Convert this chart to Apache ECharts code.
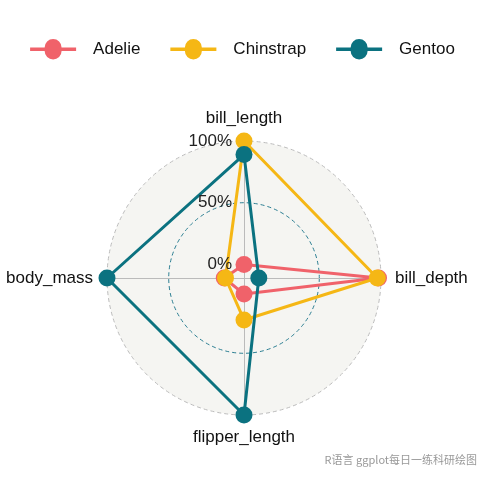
<!DOCTYPE html>
<html><head><meta charset="utf-8">
<script src="https://cdn.jsdelivr.net/npm/echarts@6/dist/echarts.min.js"></script>
<style>html,body{margin:0;background:#fff}#c{width:485px;height:485px}</style>
</head><body><div id="c"></div>
<script>
var axes = ['bill_length', 'body_mass', 'flipper_length', 'bill_depth'];
var species = ['Adelie', 'Chinstrap', 'Gentoo'];
var colors = ['#F0626A', '#F5B715', '#0B7280'];
var adelie = [0.0, 0.05, 0.02, 0.98];
var chinstrap = [1.0, 0.04, 0.23, 0.97];
var gentoo = [0.89, 1.0, 1.0, 0.01];
var gridLabels = ['0%', '50%', '100%'];
var gridValues = [0, 0.5, 1];

var chart = echarts.init(document.getElementById('c'));
var cx = 244, cy = 278, R = 137, vmin = -0.11, vmax = 1;
function rad(v) { return R * (v - vmin) / (vmax - vmin); }

var graphic = [
  { type: 'circle', shape: { cx: cx, cy: cy, r: R }, z: -10,
    style: { fill: '#F5F5F2', stroke: '#bbb', lineDash: [4, 3], lineWidth: 1 } },
  { type: 'circle', shape: { cx: cx, cy: cy, r: rad(0.5) }, z: -9,
    style: { fill: 'none', stroke: '#2C7F93', lineDash: [4, 3], lineWidth: 1 } }
];
gridValues.forEach(function (v, i) {
  graphic.push({ type: 'text', x: cx - 12, y: cy - rad(v), z: 5,
    style: { text: gridLabels[i], fill: '#222', font: '17px Arial', align: 'right', verticalAlign: 'middle' } });
});
graphic.push({ type: 'text', right: 8, bottom: 20,
  style: { text: 'R语言 ggplot每日一练科研绘图', fill: '#999', font: '11px "Noto Sans CJK SC"' } });

var iconPath = 'path://M0,9h12a7,7 0 0 1 14,0h12v3h-12a7,7 0 0 1 -14,0h-12z';

chart.setOption({
  color: colors,
  legend: {
    top: 34, left: 'center', itemGap: 30, itemWidth: 46, itemHeight: 21,
    icon: iconPath,
    textStyle: { fontSize: 17, color: '#111', fontFamily: 'Arial', padding: [0, 0, 0, 12] },
    data: species
  },
  radar: {
    center: [cx, cy], radius: R, shape: 'circle', splitNumber: 1,
    startAngle: 90,
    indicator: axes.map(function (a) { return { name: a, min: vmin, max: vmax }; }),
    axisName: { color: '#111', fontSize: 17, fontFamily: 'Arial' },
    nameGap: 14,
    axisLine: { lineStyle: { color: '#bbb', width: 1 } },
    splitLine: { show: false },
    splitArea: { show: false }
  },
  graphic: graphic,
  series: [{
    type: 'radar',
    symbol: 'circle', symbolSize: 17,
    lineStyle: { width: 3 },
    data: [
      { name: species[0], value: adelie },
      { name: species[1], value: chinstrap },
      { name: species[2], value: gentoo }
    ]
  }]
});
</script></body></html>
